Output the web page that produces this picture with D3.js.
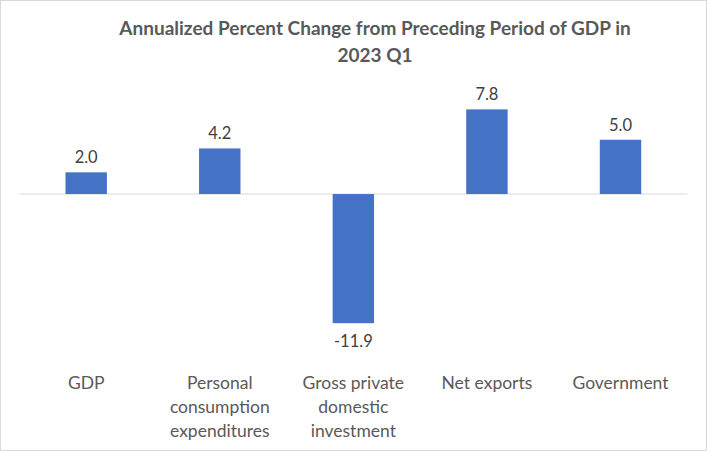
<!DOCTYPE html>
<html>
<head>
<meta charset="utf-8">
<script src="https://cdn.jsdelivr.net/npm/d3@7"></script>
<style>
  body { margin: 0; background: #fff; }
  text { font-family: Lato, "Open Sans", sans-serif; }
</style>
</head>
<body>
<svg id="chart" width="707" height="451"></svg>
<script>
const categories = [
  ["GDP"],
  ["Personal", "consumption", "expenditures"],
  ["Gross private", "domestic", "investment"],
  ["Net exports"],
  ["Government"]
];
const values = [2.0, 4.2, -11.9, 7.8, 5.0];
const titleLines = ["Annualized Percent Change from Preceding Period of GDP in", "2023 Q1"];

const svg = d3.select("#chart");

svg.append("rect")
  .attr("x", 0.5).attr("y", 0.5)
  .attr("width", 706).attr("height", 450)
  .attr("fill", "#fff")
  .attr("stroke", "#d9d9d9");

// title
svg.append("g").selectAll("text").data(titleLines)
  .enter().append("text")
  .attr("x", 375)
  .attr("y", (d,i) => 35 + i*27)
  .attr("text-anchor", "middle")
  .attr("font-size", 19)
  .attr("font-weight", "bold")
  .attr("fill", "#595959")
  .text(d => d);

const idx = d3.range(values.length);
const x = d3.scaleBand()
  .domain(idx)
  .range([19.4, 687.3])
  .paddingInner(0.69)
  .paddingOuter(0.345);

const y = d3.scaleLinear()
  .domain([-14, 10])
  .range([346, 85.5]);

// zero line
svg.append("line")
  .attr("x1", x.range()[0]).attr("x2", x.range()[1])
  .attr("y1", y(0)).attr("y2", y(0))
  .attr("stroke", "#d9d9d9")
  .attr("stroke-width", 1);

svg.append("g").selectAll("rect").data(values)
  .enter().append("rect")
  .attr("x", (d,i) => x(i))
  .attr("width", x.bandwidth())
  .attr("y", d => y(Math.max(0, d)))
  .attr("height", d => Math.abs(y(d) - y(0)))
  .attr("fill", "#4472c4");

// data labels
svg.append("g").selectAll("text").data(values)
  .enter().append("text")
  .attr("x", (d,i) => x(i) + x.bandwidth()/2)
  .attr("y", d => d >= 0 ? y(d) - 9 : y(d) + 24)
  .attr("text-anchor", "middle")
  .attr("font-size", 16.5)
  .attr("fill", "#404040")
  .text(d => d.toFixed(1));

// category labels
const cats = svg.append("g").selectAll("text").data(categories)
  .enter().append("text")
  .attr("text-anchor", "middle")
  .attr("font-size", 17.5)
  .attr("fill", "#595959");
cats.selectAll("tspan").data((d,i) => d.map(s => ({s, i})))
  .enter().append("tspan")
  .attr("x", d => x(d.i) + x.bandwidth()/2)
  .attr("y", (d,j) => 388.5 + j*24)
  .text(d => d.s);
</script>
</body>
</html>
